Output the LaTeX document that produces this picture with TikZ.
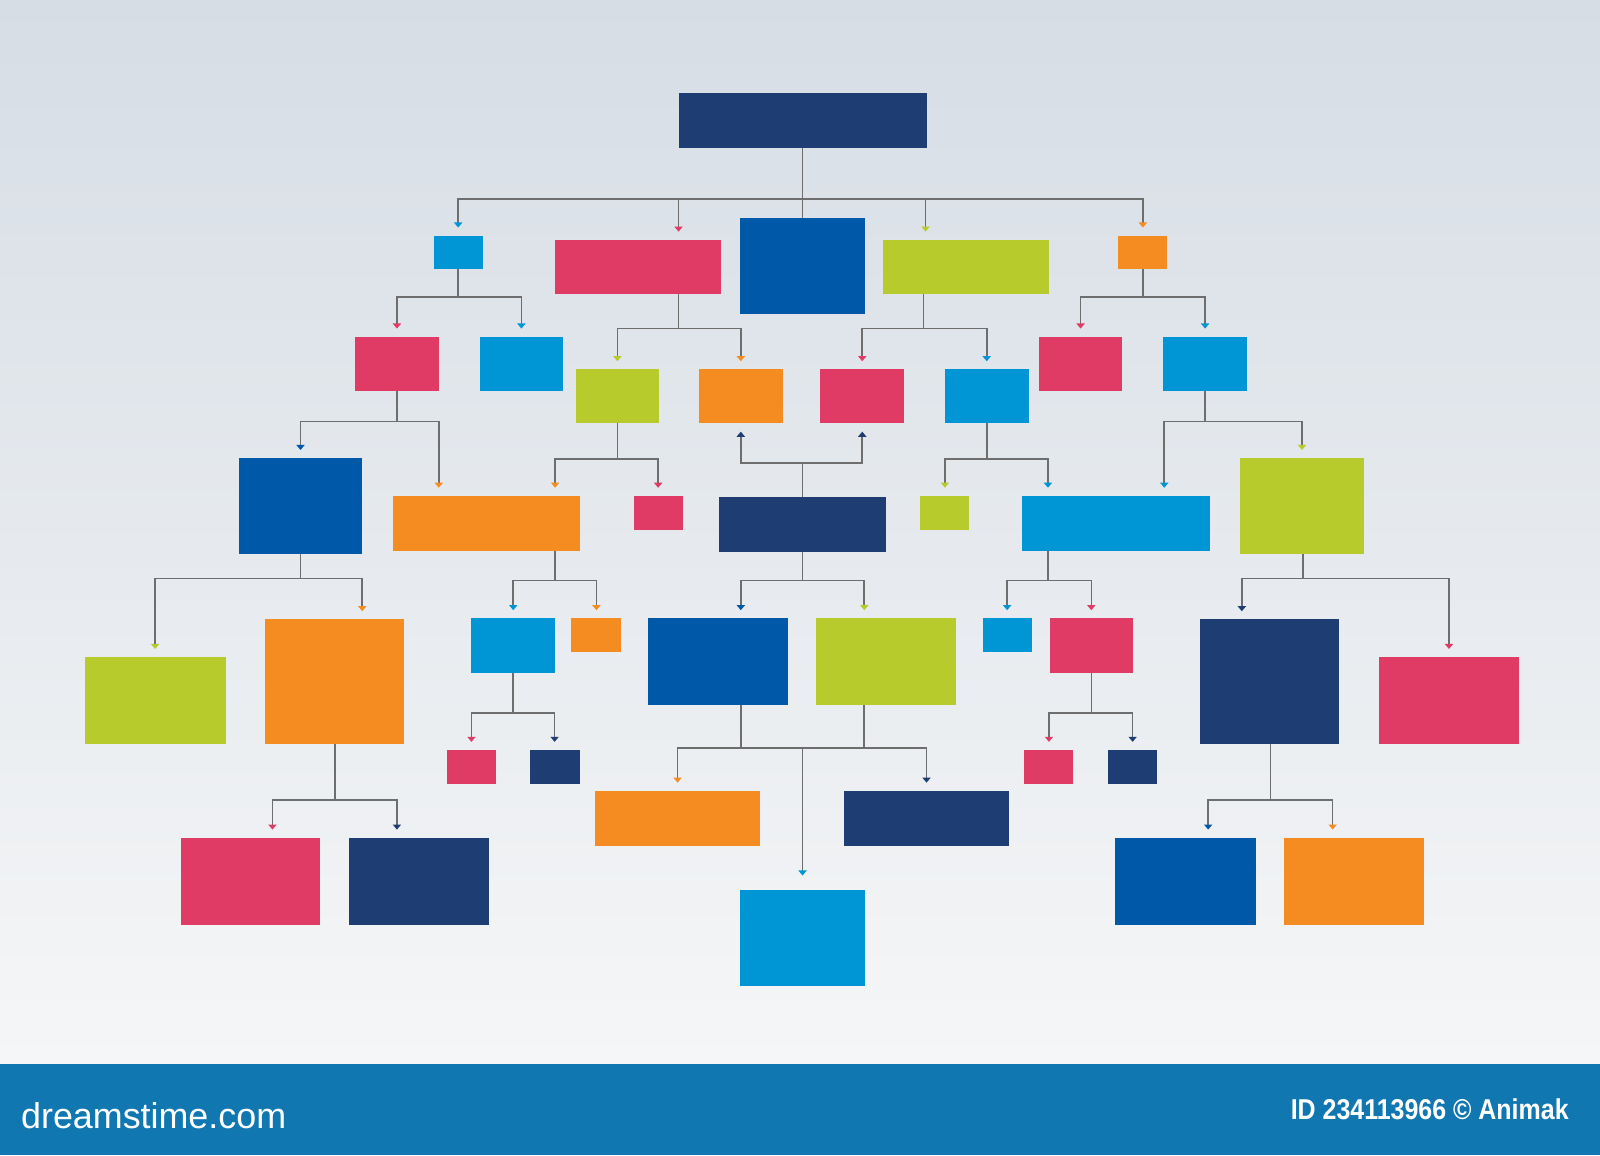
\documentclass[tikz,border=0pt]{standalone}
\usepackage{fontspec}
\setmainfont{Liberation Sans}
\newfontfamily\creditfont[FakeStretch=0.87]{Liberation Sans}
\usepackage{tikz}
\usetikzlibrary{arrows.meta}
\usetikzlibrary{calc}

\definecolor{navyc}{RGB}{30,61,114}
\definecolor{bluec}{RGB}{0,89,168}
\definecolor{cyanc}{RGB}{0,150,214}
\definecolor{pinkc}{RGB}{224,59,101}
\definecolor{orangec}{RGB}{245,140,33}
\definecolor{limec}{RGB}{183,204,44}
\definecolor{wirec}{RGB}{110,110,110}
\definecolor{barc}{RGB}{16,119,176}
\definecolor{bgtop}{RGB}{214,221,229}
\definecolor{bgbot}{RGB}{245,246,247}

\tikzset{
    blk/.style={fill=#1, draw=none, inner sep=0pt, outer sep=0pt},
    wire/.style={draw=wirec, line width=0.45pt},
    headto/.style={-{Triangle[width=0.8mm,length=0.5mm,color=#1]}}
}

\begin{document}
\begin{tikzpicture}[x=0.1mm, y=-0.1mm]
        \useasboundingbox (0,0) rectangle (1568,1132);
        % Background and bottom bar
        \shade[top color=bgtop, bottom color=bgbot] (0,0) rectangle (1568,1043);
        \fill[barc] (0,1043) rectangle (1568,1132);
        \node[anchor=base west, text=white, inner sep=0pt, font=\fontsize{10}{12}\selectfont] (site) at (20,1106) {dreamstime.com};
        \node[anchor=base east, text=white, inner sep=0pt, font=\creditfont\bfseries\fontsize{8}{10}\selectfont] (credit) at (1538,1097) {ID 234113966 © Animak};

        % Boxes: name/colour/x/y/width/height
        \foreach \n/\c/\x/\y/\w/\h in {
            T/navyc/786.5/118/24.3/5.4,
            A1/cyanc/449/247.5/4.8/3.3, A2/pinkc/625.5/261.5/16.3/5.3,
            A3/bluec/786.5/261/12.3/9.4, A4/limec/946.5/261.5/16.3/5.3,
            A5/orangec/1120/247.5/4.8/3.3,
            B1/pinkc/389/356.5/8.2/5.3, B2/cyanc/511/356.5/8.2/5.3,
            B3/limec/605/388.5/8.2/5.3, B4/orangec/726/388.5/8.2/5.3,
            B5/pinkc/845/388.5/8.2/5.3, B6/cyanc/967/388.5/8.2/5.3,
            B7/pinkc/1059/356.5/8.2/5.3, B8/cyanc/1181/356.5/8.2/5.3,
            C1/bluec/294.5/496/12.1/9.4, C2/orangec/476.5/513/18.3/5.4,
            C3/pinkc/645/502.5/4.8/3.3, M/navyc/786.5/514/16.3/5.4,
            C4/limec/926/502.5/4.8/3.3, C5/cyanc/1094/513/18.4/5.4,
            C6/limec/1276/496/12.2/9.4,
            D1/limec/152/686.5/13.8/8.5, D2/orangec/328/668/13.6/12.2,
            D3/cyanc/503/633/8.2/5.4, D4/orangec/584.5/622.5/4.9/3.3,
            D5/bluec/703.5/648.5/13.7/8.5, D6/limec/868.5/648.5/13.7/8.5,
            D7/cyanc/987/622.5/4.8/3.3, D8/pinkc/1069.5/633/8.1/5.4,
            D9/navyc/1244/668/13.6/12.2, D10/pinkc/1420/686.5/13.8/8.5,
            E1/pinkc/462/751.5/4.8/3.3, E2/navyc/543.5/751.5/4.9/3.3,
            E3/orangec/664/802/16.2/5.4, E4/navyc/908/802/16.2/5.4,
            E5/pinkc/1028/751.5/4.8/3.3, E6/navyc/1110/751.5/4.8/3.3,
            E7/pinkc/245.5/863.5/13.7/8.5, E8/navyc/410.5/863.5/13.7/8.5,
            E9/bluec/1162/863.5/13.8/8.5, E10/orangec/1327/863.5/13.8/8.5,
            F/cyanc/786.5/919/12.3/9.4}
            \node[blk=\c, minimum width=\w mm, minimum height=\h mm] (\n) at (\x,\y) {};

        % Top level
        \coordinate (jT) at (786.5,195);
        \draw[wire] (T.south) -- (A3.north);
        \draw[wire, headto=cyanc] (jT) -| ([yshift=0.8mm]A1.north);
        \draw[wire, headto=pinkc] (jT) -| ([xshift=3.95mm,yshift=0.8mm]A2.north);
        \draw[wire, headto=limec] (jT) -| ([xshift=-3.95mm,yshift=0.8mm]A4.north);
        \draw[wire, headto=orangec] (jT) -| ([yshift=0.8mm]A5.north);

        % Second level
        \coordinate (jA1) at (449,291);
        \draw[wire] (A1.south) -- (jA1);
        \draw[wire, headto=pinkc] (jA1) -| ([yshift=0.8mm]B1.north);
        \draw[wire, headto=cyanc] (jA1) -| ([yshift=0.8mm]B2.north);

        \coordinate (jA2) at (665,322);
        \draw[wire] (A2.south -| jA2) -- (jA2);
        \draw[wire, headto=limec] (jA2) -| ([yshift=0.8mm]B3.north);
        \draw[wire, headto=orangec] (jA2) -| ([yshift=0.8mm]B4.north);

        \coordinate (jA4) at (905,322);
        \draw[wire] (A4.south -| jA4) -- (jA4);
        \draw[wire, headto=pinkc] (jA4) -| ([yshift=0.8mm]B5.north);
        \draw[wire, headto=cyanc] (jA4) -| ([yshift=0.8mm]B6.north);

        \coordinate (jA5) at (1120,291);
        \draw[wire] (A5.south) -- (jA5);
        \draw[wire, headto=pinkc] (jA5) -| ([yshift=0.8mm]B7.north);
        \draw[wire, headto=cyanc] (jA5) -| ([yshift=0.8mm]B8.north);

        % Third level
        \coordinate (jB1) at (389,413);
        \draw[wire] (B1.south) -- (jB1);
        \draw[wire, headto=bluec] (jB1) -| ([yshift=0.8mm]C1.north);
        \draw[wire, headto=orangec] (jB1) -| ([xshift=-4.65mm,yshift=0.8mm]C2.north);

        \coordinate (jB3) at (605,450);
        \draw[wire] (B3.south) -- (jB3);
        \draw[wire, headto=orangec] (jB3) -| ([xshift=6.75mm,yshift=0.8mm]C2.north);
        \draw[wire, headto=pinkc] (jB3) -| ([yshift=0.8mm]C3.north);

        \coordinate (jMu) at (786.5,454);
        \draw[wire] (M.north) -- (jMu);
        \draw[wire, headto=navyc] (jMu) -| ([yshift=-0.8mm]B4.south);
        \draw[wire, headto=navyc] (jMu) -| ([yshift=-0.8mm]B5.south);

        \coordinate (jB6) at (967,450);
        \draw[wire] (B6.south) -- (jB6);
        \draw[wire, headto=limec] (jB6) -| ([yshift=0.8mm]C4.north);
        \draw[wire, headto=cyanc] (jB6) -| ([xshift=-6.7mm,yshift=0.8mm]C5.north);

        \coordinate (jB8) at (1181,413);
        \draw[wire] (B8.south) -- (jB8);
        \draw[wire, headto=cyanc] (jB8) -| ([xshift=4.7mm,yshift=0.8mm]C5.north);
        \draw[wire, headto=limec] (jB8) -| ([yshift=0.8mm]C6.north);

        % Fourth level
        \coordinate (jC1) at (294.5,567);
        \draw[wire] (C1.south) -- (jC1);
        \draw[wire, headto=limec] (jC1) -| ([yshift=0.8mm]D1.north);
        \draw[wire, headto=orangec] (jC1) -| ([xshift=2.7mm,yshift=0.8mm]D2.north);

        \coordinate (jC2) at (544,569);
        \draw[wire] (C2.south -| jC2) -- (jC2);
        \draw[wire, headto=cyanc] (jC2) -| ([yshift=0.8mm]D3.north);
        \draw[wire, headto=orangec] (jC2) -| ([yshift=0.8mm]D4.north);

        \coordinate (jMd) at (786.5,569);
        \draw[wire] (M.south) -- (jMd);
        \draw[wire, headto=bluec] (jMd) -| ([xshift=2.25mm,yshift=0.8mm]D5.north);
        \draw[wire, headto=limec] (jMd) -| ([xshift=-2.15mm,yshift=0.8mm]D6.north);

        \coordinate (jC5) at (1027,569);
        \draw[wire] (C5.south -| jC5) -- (jC5);
        \draw[wire, headto=cyanc] (jC5) -| ([yshift=0.8mm]D7.north);
        \draw[wire, headto=pinkc] (jC5) -| ([yshift=0.8mm]D8.north);

        \coordinate (jC6) at (1277,567);
        \draw[wire] (C6.south -| jC6) -- (jC6);
        \draw[wire, headto=navyc] (jC6) -| ([xshift=-2.7mm,yshift=0.8mm]D9.north);
        \draw[wire, headto=pinkc] (jC6) -| ([yshift=0.8mm]D10.north);

        % Fifth level
        \coordinate (jD3) at (503,699);
        \draw[wire] (D3.south) -- (jD3);
        \draw[wire, headto=pinkc] (jD3) -| ([yshift=0.8mm]E1.north);
        \draw[wire, headto=navyc] (jD3) -| ([yshift=0.8mm]E2.north);

        \coordinate (jD8) at (1069.5,699);
        \draw[wire] (D8.south) -- (jD8);
        \draw[wire, headto=pinkc] (jD8) -| ([yshift=0.8mm]E5.north);
        \draw[wire, headto=navyc] (jD8) -| ([yshift=0.8mm]E6.north);

        \coordinate (jD5) at (726,733);
        \coordinate (jD6) at (847,733);
        \coordinate (jF) at (786.5,733);
        \draw[wire] (D5.south -| jD5) -- (jD5);
        \draw[wire] (D6.south -| jD6) -- (jD6);
        \draw[wire, headto=orangec] (jF) -| ([yshift=0.8mm]E3.north);
        \draw[wire, headto=navyc] (jF) -| ([yshift=0.8mm]E4.north);
        \draw[wire, headto=cyanc] (jF) -- ([yshift=1.4mm]F.north);

        \coordinate (jD2) at (328,784);
        \draw[wire] (D2.south) -- (jD2);
        \draw[wire, headto=pinkc] (jD2) -| ([xshift=2.15mm,yshift=0.8mm]E7.north);
        \draw[wire, headto=navyc] (jD2) -| ([xshift=-2.15mm,yshift=0.8mm]E8.north);

        \coordinate (jD9) at (1245,784);
        \draw[wire] (D9.south -| jD9) -- (jD9);
        \draw[wire, headto=bluec] (jD9) -| ([xshift=2.2mm,yshift=0.8mm]E9.north);
        \draw[wire, headto=orangec] (jD9) -| ([xshift=-2.1mm,yshift=0.8mm]E10.north);

    \end{tikzpicture}
\end{document}
